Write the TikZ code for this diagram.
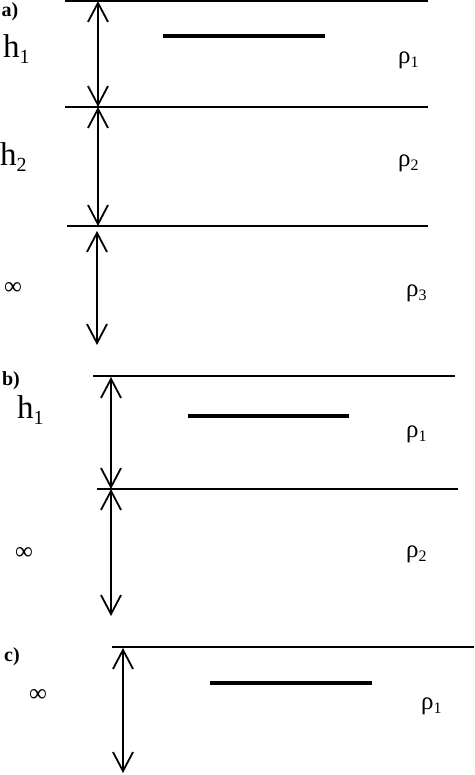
\documentclass[tikz,border=0pt]{standalone}
\usepackage{fontspec}
\setmainfont{Liberation Serif}
\usetikzlibrary{arrows.meta}

\newcommand{\hsub}[1]{h\raisebox{-6pt}{\fontsize{20}{20}\selectfont #1}}
\newcommand{\rhosub}[1]{ρ\raisebox{-4pt}{\fontsize{16}{16}\selectfont #1}}

\begin{document}
\begin{tikzpicture}[x=1pt,y=-1pt,
    layer/.style={line width=1.7pt},
    source/.style={line width=4.5pt},
    dimarrow/.style={line width=1.8pt,
      {Straight Barb[length=19pt,width=20pt]}-{Straight Barb[length=19pt,width=20pt]}},
    tag/.style={font=\bfseries\fontsize{20}{20}\selectfont, inner sep=0pt},
    depth/.style={font=\fontsize{33}{33}\selectfont, anchor=base west, inner sep=0pt},
    inf/.style={font=\fontsize{25}{25}\selectfont, inner sep=0pt},
    rho/.style={font=\fontsize{25}{25}\selectfont, anchor=base west, inner sep=0pt}]
  \useasboundingbox (0,0) rectangle (474,775);

  % panel tags
  \foreach \t/\x/\y in {a/10/12, b/11/381, c/12/657} {
    \node[tag] (tag\t) at (\x,\y) {\t)};
  }

  % a) three layers
  \draw[layer] (65,1) -- (428,1);
  \draw[layer] (65,107) -- (428,107);
  \draw[layer] (67,226) -- (428,226);
  \draw[source] (163,36) -- (325,36);
  \coordinate (a0) at (98,1);
  \coordinate (a1) at (98,107);
  \coordinate (a2) at (98,226);
  \coordinate (a3) at (97,231);
  \coordinate (a4) at (97,345);
  \draw[dimarrow] (a0) -- (a1);
  \draw[dimarrow] (a1) -- (a2);
  \draw[dimarrow] (a3) -- (a4);
  \node[depth] (ha1) at (3,58) {\hsub{1}};
  \node[depth] (ha2) at (0,166) {\hsub{2}};
  \node[inf] (infa) at (13,288) {∞};
  \foreach \k/\x/\y in {1/398/64, 2/398/167, 3/406/296} {
    \node[rho] (rhoa\k) at (\x,\y) {\rhosub{\k}};
  }

  % b) two layers
  \draw[layer] (93,376) -- (455,376);
  \draw[layer] (97,489) -- (458,489);
  \draw[source] (188,416) -- (349,416);
  \coordinate (b0) at (111,377);
  \coordinate (b1) at (111,489);
  \coordinate (b2) at (111,616);
  \draw[dimarrow] (b0) -- (b1);
  \draw[dimarrow] (b1) -- (b2);
  \node[depth] (hb1) at (17,418) {\hsub{1}};
  \node[inf] (infb) at (24,553) {∞};
  \foreach \k/\x/\y in {1/406/437, 2/406/557} {
    \node[rho] (rhob\k) at (\x,\y) {\rhosub{\k}};
  }

  % c) half-space
  \draw[layer, line width=2.4pt] (112,647) -- (474,647);
  \draw[source] (210,683) -- (372,683);
  \coordinate (c0) at (123,648);
  \coordinate (c1) at (123,773);
  \draw[dimarrow] (c0) -- (c1);
  \node[inf] (infc) at (38,695) {∞};
  \node[rho] (rhoc1) at (421,709) {\rhosub{1}};

\end{tikzpicture}
\end{document}
